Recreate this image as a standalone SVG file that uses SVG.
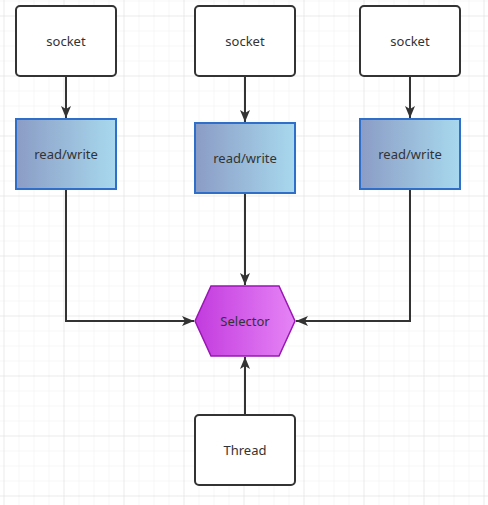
<svg xmlns="http://www.w3.org/2000/svg" width="488" height="505" viewBox="0 0 488 505">
<defs>
<pattern id="minor" width="15" height="15" patternUnits="userSpaceOnUse" x="3.5" y="0.5">
<path d="M0,0 H15 M0,0 V15" fill="none" stroke="#f0f0f0" stroke-width="1"/>
</pattern>
<pattern id="major" width="60" height="60" patternUnits="userSpaceOnUse" x="3.5" y="15.5">
<path d="M0,0 H60 M0,0 V60" fill="none" stroke="#e2e2e2" stroke-width="1"/>
</pattern>
<linearGradient id="rwGrad" x1="0" y1="0" x2="1" y2="0">
<stop offset="0" stop-color="#8b9cc5"/>
<stop offset="1" stop-color="#a8d9ee"/>
</linearGradient>
<linearGradient id="selGrad" x1="0" y1="0" x2="1" y2="0">
<stop offset="0" stop-color="#c23bde"/>
<stop offset="1" stop-color="#e684f6"/>
</linearGradient>
<marker id="arrow" markerWidth="14" markerHeight="12" refX="12" refY="6" orient="auto" markerUnits="userSpaceOnUse">
<path d="M0,1 L12,6 L0,11 L3,6 Z" fill="#333333"/>
</marker>
<style>
.plain{fill:#ffffff;stroke:#333333;stroke-width:2}
.rw{fill:url(#rwGrad);stroke:#2f6fca;stroke-width:2}
.sel{fill:url(#selGrad);stroke:#9a16b4;stroke-width:1.5}
.lbl{font-family:"Noto Sans","Liberation Sans",sans-serif;font-size:13px;fill:#333333;text-anchor:middle;dominant-baseline:central}
.conn{fill:none;stroke:#333333;stroke-width:2;marker-end:url(#arrow)}
</style>
</defs>
<rect width="488" height="505" fill="#ffffff"/>
<rect width="488" height="505" fill="url(#minor)"/>
<rect width="488" height="505" fill="url(#major)"/>

<g id="connectors">
<path class="conn" d="M66,76 V118"/>
<path class="conn" d="M245,76 V122"/>
<path class="conn" d="M410,76 V118"/>
<path class="conn" d="M66,189 V321 H194"/>
<path class="conn" d="M245,193 V285"/>
<path class="conn" d="M410,189 V321 H296"/>
<path class="conn" d="M245,415 V357"/>
</g>

<g id="socket1"><rect class="plain" x="16" y="6" width="100" height="70" rx="4"/><text class="lbl" x="66" y="41">socket</text></g>
<g id="socket2"><rect class="plain" x="195" y="6" width="100" height="70" rx="4"/><text class="lbl" x="245" y="41">socket</text></g>
<g id="socket3"><rect class="plain" x="360" y="6" width="100" height="70" rx="4"/><text class="lbl" x="410" y="41">socket</text></g>

<g id="rw1"><rect class="rw" x="16" y="119" width="100" height="70"/><text class="lbl" x="66" y="154">read/write</text></g>
<g id="rw2"><rect class="rw" x="195" y="123" width="100" height="70"/><text class="lbl" x="245" y="158">read/write</text></g>
<g id="rw3"><rect class="rw" x="360" y="119" width="100" height="70"/><text class="lbl" x="410" y="154">read/write</text></g>

<g id="selector"><polygon class="sel" points="195,321 211,286 279,286 295,321 279,356 211,356"/><text class="lbl" x="245" y="321">Selector</text></g>

<g id="thread"><rect class="plain" x="195" y="415" width="100" height="70" rx="4"/><text class="lbl" x="245" y="450">Thread</text></g>
</svg>
